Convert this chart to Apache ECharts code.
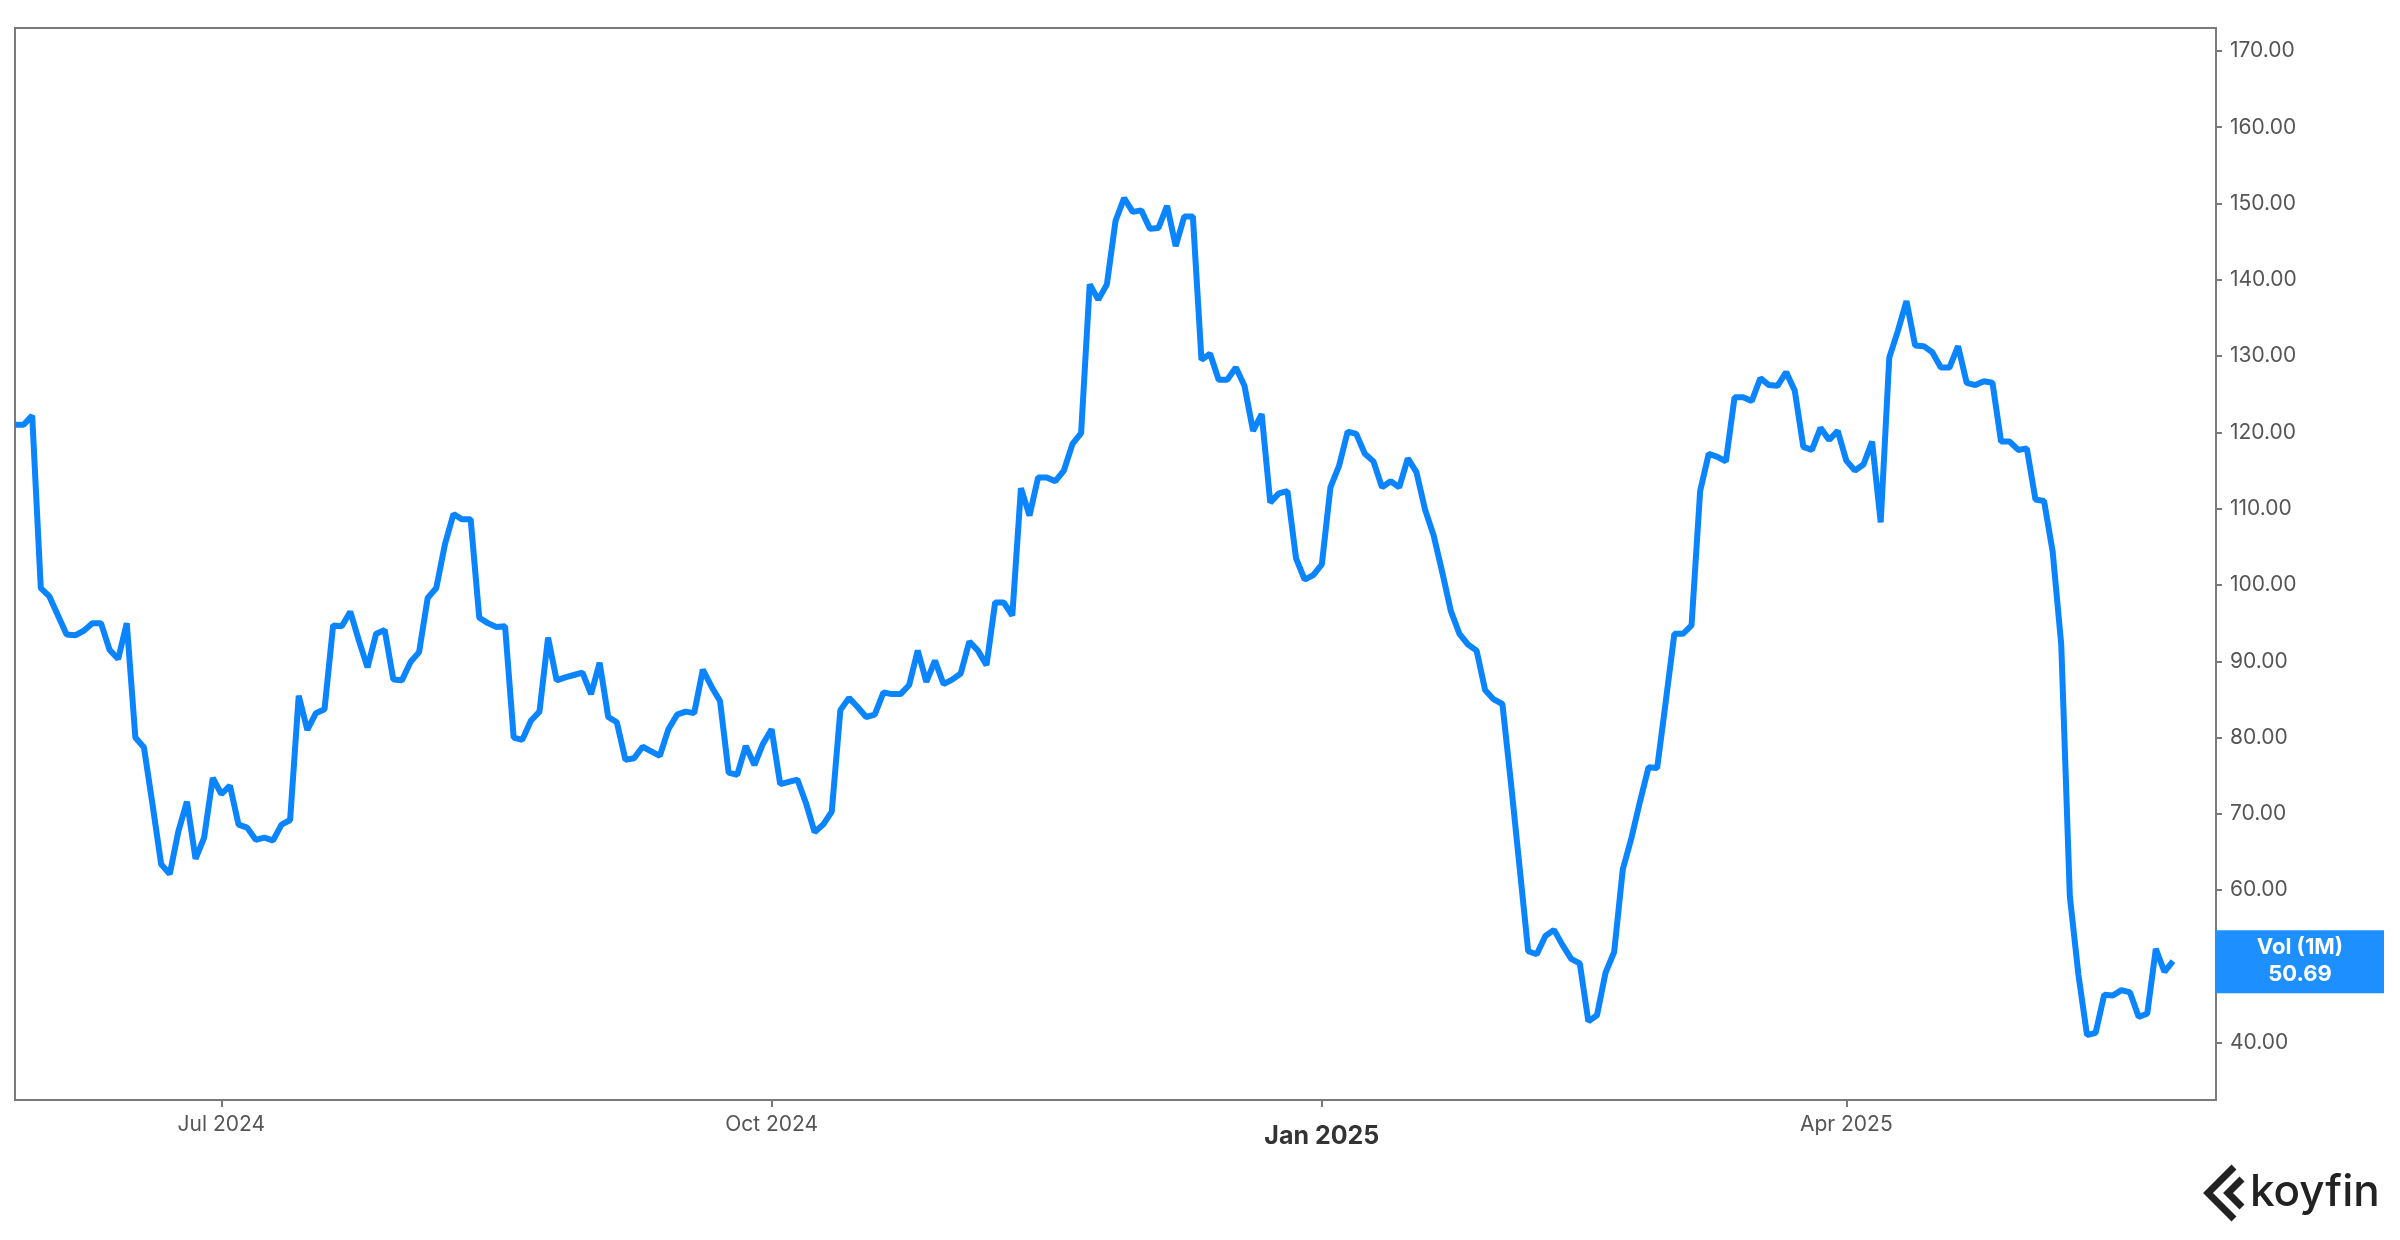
<!DOCTYPE html>
<html><head><meta charset="utf-8">
<script src="https://cdn.jsdelivr.net/npm/echarts@6/dist/echarts.min.js"></script>
<style>html,body{margin:0;padding:0;background:#fff}#c{width:2400px;height:1240px}</style>
</head><body><div id="c"></div>
<script>
const seriesName = 'Vol (1M)';
const values = [
121,121,122.2,99.6,98.5,96,93.5,93.4,94,95,95,91.5,90.3,95,80,78.7,71.2,63.4,62.1,67.7,
71.6,64.1,66.9,74.7,72.6,73.7,68.6,68.2,66.6,66.9,66.5,68.6,69.2,85.5,81,83.2,83.7,94.7,94.6,96.5,
92.7,89.2,93.6,94.1,87.6,87.5,89.9,91.2,98.3,99.6,105.3,109.3,108.6,108.6,95.7,95,94.5,94.6,80,79.7,
82.2,83.4,93.1,87.5,87.9,88.2,88.5,85.7,89.8,82.7,82,77.1,77.3,78.8,78.2,77.6,81.1,83,83.4,83.2,
88.9,86.7,84.8,75.4,75.1,78.9,76.4,79.2,81.1,73.9,74.2,74.5,71.4,67.6,68.6,70.3,83.6,85.2,84,82.7,
83,85.9,85.7,85.7,86.9,91.4,87.3,90.1,87,87.6,88.4,92.6,91.4,89.5,97.7,97.7,96,112.7,109.1,114.1,
114.1,113.6,115,118.5,119.9,139.4,137.4,139.4,147.7,150.7,148.9,149.1,146.7,146.8,149.7,144.4,148.3,148.3,129.5,130.3,
126.9,126.9,128.5,126.1,120.2,122.4,110.8,112,112.3,103.5,100.7,101.3,102.7,112.8,115.6,120.1,119.8,117.2,116.2,112.8,
113.6,112.8,116.6,114.8,109.9,106.5,101.7,96.6,93.6,92.2,91.4,86.2,85,84.4,74,63,52,51.6,54,54.8,
52.8,51,50.4,42.8,43.6,49.2,51.9,62.7,66.8,71.6,76.1,76,84.7,93.6,93.6,94.7,112.3,117.2,116.8,116.2,
124.6,124.6,124.1,127.1,126.2,126.1,127.9,125.5,118.1,117.7,120.6,119,120.2,116.3,115,115.8,118.8,108.2,129.8,133.3,
137.2,131.4,131.3,130.5,128.5,128.5,131.3,126.5,126.2,126.7,126.5,118.8,118.8,117.7,117.9,111.2,111,104.4,92.2,59.2,
48.9,41,41.3,46.3,46.2,46.9,46.6,43.4,43.8,52.3,49.3,50.69
];
const tickIndex = [24, 88, 152, 213];
const tickLabels = ['Jul 2024', 'Oct 2024', 'Jan 2025', 'Apr 2025'];
const yTicks = [40,50,60,70,80,90,100,110,120,130,140,150,160,170];
const lastLabel = '50.69';

const nCat = 257;
const cats = [];
for (let i = 0; i < nCat; i++) cats.push(String(i));
const labelMap = {};
tickIndex.forEach((t, k) => labelMap[t] = tickLabels[k]);

const chart = echarts.init(document.getElementById('c'));
chart.setOption({
  animation: false,
  grid: {left: 15, right: 184, top: 28, bottom: 140, show: true, borderColor: '#7a7a7a', borderWidth: 2},
  xAxis: {
    type: 'category', data: cats, boundaryGap: false,
    axisLine: {lineStyle: {color: '#7a7a7a', width: 2}},
    axisTick: {show: true, length: 7, lineStyle: {color: '#7a7a7a', width: 2}, interval: (i) => labelMap[i] !== undefined},
    axisLabel: {
      interval: (i) => labelMap[i] !== undefined,
      formatter: (v) => labelMap[+v] === 'Jan 2025' ? '{b|Jan 2025}' : (labelMap[+v] || ''),
      color: '#555', fontSize: 21, fontFamily: 'Inter', margin: 14,
      rich: {b: {fontWeight: 'bold', fontSize: 25, color: '#333', fontFamily: 'Inter', padding: [10,0,0,0]}}
    },
    splitLine: {show: false}
  },
  yAxis: {
    type: 'value', position: 'right', min: 32.5, max: 173,
    axisLine: {show: true, lineStyle: {color: '#7a7a7a', width: 2}},
    axisTick: {show: true, length: 6, customValues: yTicks, lineStyle: {color: '#7a7a7a', width: 2}},
    axisLabel: {customValues: yTicks, formatter: (v) => v.toFixed(2), color: '#555', fontSize: 21, fontFamily: 'Inter', margin: 14},
    splitLine: {show: false}
  },
  series: [{
    name: seriesName, type: 'line', data: values, showSymbol: false,
    lineStyle: {color: '#0a84ff', width: 6}, itemStyle: {color: '#0a84ff'}
  }]
});
const p = chart.convertToPixel({yAxisIndex: 0}, 50.69);
chart.setOption({graphic: [
  {type: 'rect', shape: {x: 2216, y: p - 31, width: 168, height: 63}, style: {fill: '#1e8fff'}, z: 100},
  {type: 'text', style: {x: 2300, y: p - 14, text: seriesName, fill: '#fff', font: 'bold 22px Inter', align: 'center', verticalAlign: 'middle'}, z: 101},
  {type: 'text', style: {x: 2300, y: p + 13, text: lastLabel, fill: '#fff', font: 'bold 22px Inter', align: 'center', verticalAlign: 'middle'}, z: 101},
  {type: 'polyline', shape: {points: [[2234,1167],[2208,1193],[2234,1219]]}, style: {stroke: '#222', lineWidth: 7, fill: null}},
  {type: 'polyline', shape: {points: [[2242,1179],[2228,1193],[2242,1207]]}, style: {stroke: '#222', lineWidth: 7, fill: null}},
  {type: 'text', style: {x: 2250, y: 1193, text: 'koyfin', fill: '#222', font: '500 44px Inter', verticalAlign: 'middle'}}
]});
</script></body></html>
